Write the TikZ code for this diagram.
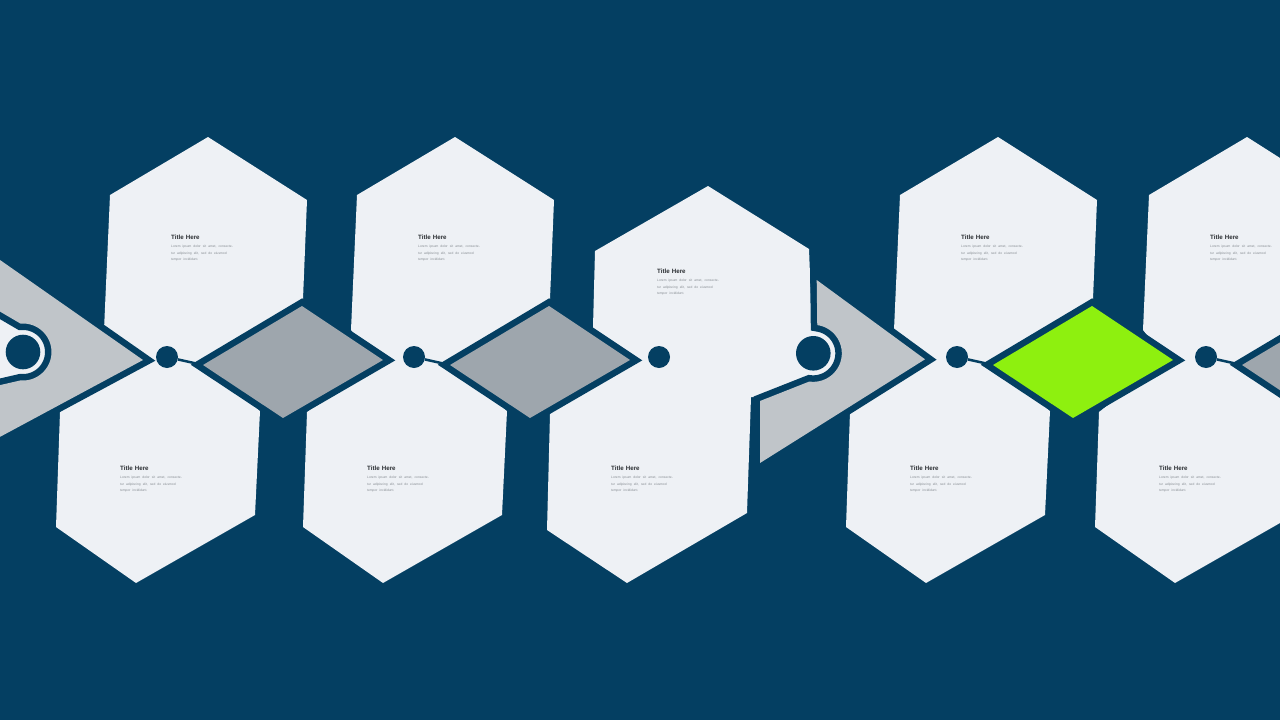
\documentclass[tikz,border=0pt]{standalone}
\usepackage{fontspec}
\setmainfont{Liberation Sans}
\definecolor{navy}{HTML}{043F62}
\definecolor{hexfill}{HTML}{EEF1F5}
\definecolor{dgray}{HTML}{9EA6AD}
\definecolor{lgray}{HTML}{C0C5C9}
\definecolor{lime}{HTML}{8EF00F}
\definecolor{titlecol}{HTML}{2B2F33}
\definecolor{bodycol}{HTML}{868C92}
\newcommand{\hexbody}{{\mdseries\color{bodycol}\fontsize{3.3}{5.5}\selectfont Lorem ipsum dolor sit amet, consectetur adipiscing elit, sed do eiusmod tempor incididunt.}}
\tikzset{
  hexa/.style={fill=hexfill},
  tile/.style={preaction={draw=navy, line width=13pt, line join=miter}},
  darktile/.style={tile, fill=dgray},
  lighttile/.style={tile, fill=lgray},
  greentile/.style={tile, fill=lime},
  dot/.style={circle, fill=navy, inner sep=0pt, minimum size=22pt},
  bigdot/.style={circle, fill=navy, inner sep=0pt, minimum size=34.6pt},
  link/.style={draw=navy, line width=2.5pt},
  hextext/.style={anchor=north west, text width=62pt, align=left, inner sep=0pt,
    font=\fontsize{6.2}{6.5}\selectfont\bfseries, text=titlecol},
}
\begin{document}
\begin{tikzpicture}[x=1pt,y=-1pt]
\useasboundingbox (0,0) rectangle (1280,720);
\clip (0,0) rectangle (1280,720);
\fill[navy] (0,0) rectangle (1280,720);

% light hexagons of the repeating units
\foreach \cx in {167,414,957,1206}{
  \begin{scope}[shift={(\cx,357)}]
    \fill[hexa] (41,-220) -- (140,-157) -- (136,-58) -- (36,8) -- (0,2) -- (-38,4) -- (-63,-27) -- (-57,-162) -- cycle;
    \fill[hexa] (-38,1) -- (0,-1) -- (36,6) -- (93,54) -- (88,158) -- (-31,226) -- (-111,170) -- (-107,55) -- cycle;
  \end{scope}
}
% merged middle shape
\fill[hexa] (708,186) -- (809,249) -- (811,300) -- (845,330) -- (845,380) -- (790,398) -- (751,397) -- (747,513) -- (627,583) -- (547,530) -- (550,414) -- (600,360) -- (593,327) -- (595,251) -- cycle;
% left edge light band
\fill[hexa] (-30,285) -- (25,318) -- (55,335) -- (55,370) -- (25,388) -- (-30,400) -- cycle;

% diamonds
\foreach \cx/\sty in {167/darktile,414/darktile,957/greentile,1206/darktile}{
  \begin{scope}[shift={(\cx,357)}]
    \path[\sty] (36,8) -- (135,-51) -- (216,3) -- (116,61) -- cycle;
  \end{scope}
}
% chevrons with notches
\path[lighttile] (-30,239) -- (143,360) -- (-30,453) -- (-30,392) -- plot[variable=\t, samples at={95,90,...,-95}] ({23+28.5*cos(\t)},{352+28.5*sin(\t)}) -- (-30,294) -- cycle;
\path[lighttile] (816.7,280) -- (925,359.3) -- (760,463) -- (760,401) -- plot[variable=\t, samples at={98,93,...,-82}] ({813.3+28.5*cos(\t)},{353.3+28.5*sin(\t)}) -- cycle;

% dots and links
\foreach \cx/\n in {167/a,414/b,957/d,1206/e}{
  \node[dot] (c\n) at (\cx,357) {};
  \coordinate (dl\n) at (\cx+36,365);
  \draw[link] (c\n) -- (dl\n);
}
\node[dot] (cc) at (659,357) {};
\node[bigdot] (c0) at (23,352) {};
\node[bigdot] (c4) at (813.3,353.3) {};

% texts
\foreach \cx/\n in {167/a,414/b,957/d,1206/e}{
  \node[hextext] (tt\n) at (\cx+4,235) {Title Here\par\vspace{1.5pt}\hexbody};
  \node[hextext] (bt\n) at (\cx-47,466) {Title Here\par\vspace{1.5pt}\hexbody};
}
\node[hextext] (ttc) at (657,269) {Title Here\par\vspace{1.5pt}\hexbody};
\node[hextext] (btc) at (611,466) {Title Here\par\vspace{1.5pt}\hexbody};
\end{tikzpicture}
\end{document}
